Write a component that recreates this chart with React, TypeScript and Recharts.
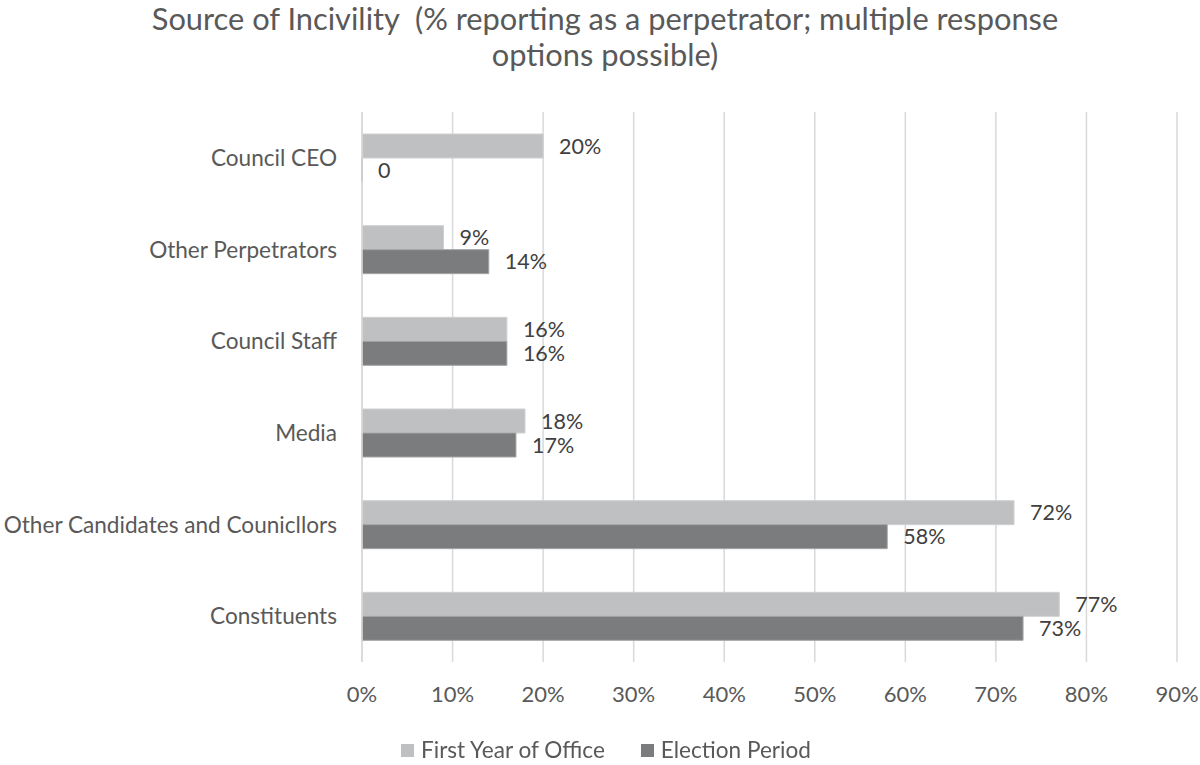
import { Bar, BarChart, CartesianGrid, LabelList, XAxis, YAxis } from "recharts";

const categories = [
  "Council CEO",
  "Other Perpetrators",
  "Council Staff",
  "Media",
  "Other Candidates and Counicllors",
  "Constituents",
];
const firstYear = [20, 9, 16, 18, 72, 77];
const electionPeriod = [0, 14, 16, 17, 58, 73];
const xTicks = [0, 10, 20, 30, 40, 50, 60, 70, 80, 90];

const LIGHT = "#bfc0c2";
const DARK = "#7b7c7e";
const TEXT = "#595959";
const FONT = "Lato, 'Open Sans', sans-serif";

const rows = categories.map((name, i) => ({
  name,
  first: firstYear[i],
  election: electionPeriod[i],
}));

// Excel shows the zero value without the percent sign
const fmtLabel = (v: number) => (v === 0 ? "0" : `${v}%`);

function valueLabel(props: any) {
  const { x, y, width, height, value } = props;
  const xx = Number(x) + Math.max(0, Number(width || 0)) + 16;
  const yy = Number(y) + Number(height) / 2;
  return (
    <text x={xx} y={yy} dy="0.36em" fontSize={21.5} fill="#404040" fontFamily={FONT}>
      {fmtLabel(Number(value))}
    </text>
  );
}

function LegendBox() {
  const items = [
    { label: "First Year of Office", color: LIGHT },
    { label: "Election Period", color: DARK },
  ];
  return (
    <div
      style={{
        position: "absolute",
        top: 736,
        left: 6,
        width: 1200,
        display: "flex",
        justifyContent: "center",
        gap: 36,
        fontFamily: FONT,
        fontSize: 22.6,
        lineHeight: "28px",
        color: TEXT,
      }}
    >
      {items.map((it) => (
        <span key={it.label} style={{ display: "flex", alignItems: "center", gap: 7 }}>
          <span style={{ width: 13, height: 13, background: it.color, display: "inline-block" }} />
          {it.label}
        </span>
      ))}
    </div>
  );
}

export default function App() {
  return (
    <div style={{ position: "fixed", left: 0, top: 0, width: 1200, height: 765, background: "#fff" }}>
      <div
        style={{
          position: "absolute",
          top: 1,
          left: 5,
          width: 1200,
          textAlign: "center",
          fontFamily: FONT,
          fontSize: 30.8,
          lineHeight: "36px",
          color: TEXT,
        }}
      >
        Source of Incivility&nbsp; (% reporting as a perpetrator; multiple response
        <br />
        options possible)
      </div>
      <BarChart
        width={1200}
        height={765}
        data={rows}
        layout="vertical"
        margin={{ top: 112, right: 23, left: 0, bottom: 53 }}
        barCategoryGap="24%"
        barGap={0}
      >
        <CartesianGrid horizontal={false} stroke="#d9d9d9" strokeWidth={1.5} />
        <XAxis
          type="number"
          domain={[0, 90]}
          ticks={xTicks}
          tickFormatter={(v: number) => `${v}%`}
          axisLine={false}
          tickLine={false}
          tick={{ fontSize: 22, fill: TEXT, fontFamily: FONT }}
          tickMargin={18}
          height={50}
        />
        <YAxis
          type="category"
          dataKey="name"
          width={362}
          axisLine={{ stroke: "#d9d9d9", strokeWidth: 1.5 }}
          tickLine={false}
          tick={{ fontSize: 22.6, fill: TEXT, fontFamily: FONT }}
          tickMargin={19}
        />
        <Bar dataKey="first" name="First Year of Office" fill={LIGHT} stroke="#cfd0d1" isAnimationActive={false}>
          <LabelList dataKey="first" content={valueLabel} />
        </Bar>
        <Bar
          dataKey="election"
          name="Election Period"
          fill={DARK}
          stroke="#a3a4a5"
          minPointSize={0.01}
          isAnimationActive={false}
        >
          <LabelList dataKey="election" content={valueLabel} />
        </Bar>
      </BarChart>
      <LegendBox />
    </div>
  );
}
